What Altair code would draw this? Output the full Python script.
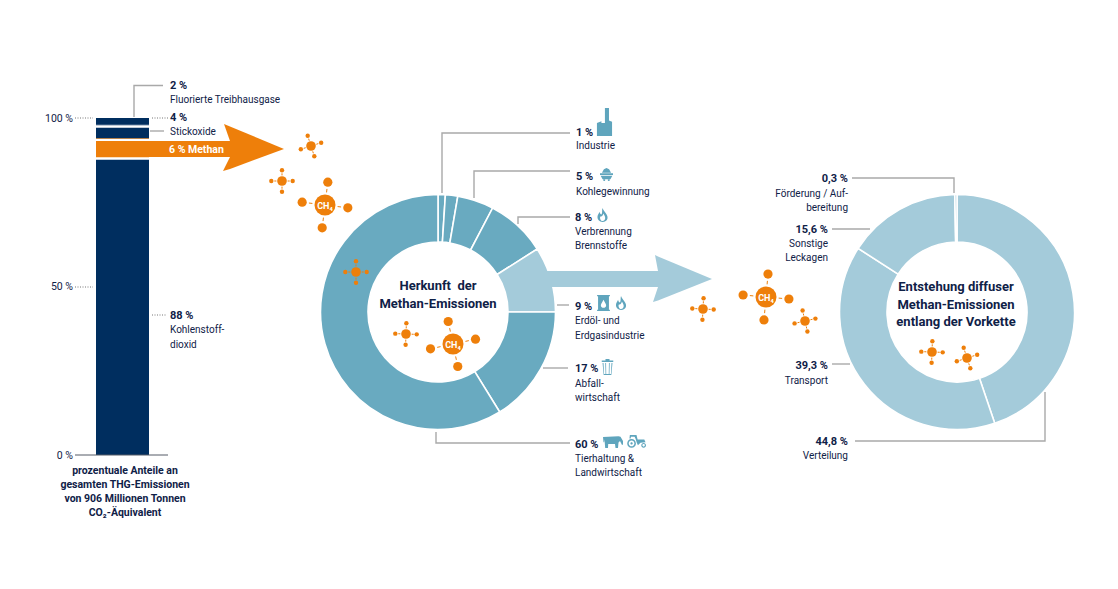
import math
import altair as alt
import pandas as pd

FONT = "Roboto"
NAVY, ORANGE, BLUE, LIGHT, INK, GREY = "#002e5f", "#ee7f0a", "#69aac0", "#a4cbda", "#0f2147", "#a9a9a9"

# ---------- data ----------
stack_values = [88, 6, 4, 2]
stack_colors = [NAVY, ORANGE, NAVY, NAVY]
gap_percent = [97.5, 93.4, 88]
axis_percent = [100, 50, 0]
axis_labels = ["100 %", "50 %", "0 %"]

origin_values = [1, 1.7, 5, 8.3, 9, 16.2, 58.8]
origin_colors = [BLUE, BLUE, BLUE, BLUE, LIGHT, BLUE, BLUE]
chain_values = [44.8, 39.3, 15.6, 0.3]

# page geometry (reference pixels)
PX_X = alt.Scale(domain=[8, 1110], range=[0, 1102], nice=False, zero=False)
PX_Y = alt.Scale(domain=[8, 581], range=[0, 573], nice=False, zero=False)
PCT_Y = alt.Scale(domain=[0, 100], range=[447, 110], nice=False, zero=True)
THETA = alt.Scale(domain=[0, 100], range=[0, 2 * math.pi])

leaders = [
    [(134, 117), (134, 85.5), (163, 85.5)],
    [(150, 131), (164, 131)],
    [(442, 193), (442, 133), (570, 133)],
    [(474, 198), (474, 171), (570, 171)],
    [(518, 224), (518, 217), (570, 217)],
    [(557, 305), (569, 305)],
    [(543, 368), (568, 368)],
    [(436, 432), (436, 443), (570, 443)],
    [(954, 193), (954, 178), (852, 178)],
    [(832, 229), (870, 229)],
    [(832, 364), (850, 364)],
    [(1045, 392), (1045, 441), (855, 441)],
]
dotted = [(75, 93, 118), (75, 93, 287), (152, 168, 118), (152, 166, 315)]
baseline_rule = [(75, 168, 455)]

# shaft / head pieces of the arrows: x, upper y, lower y
orange_arrow = [
    [(96, 141, 157), (231, 141, 157)],
    [(230, 126.5, 168.9), (284, 149, 149)],
    [(224, 124, 124), (230, 126.5, 141)],
    [(223, 171, 171), (230, 168.9, 157)],
]
blue_arrow = [
    [(530, 271, 287), (659, 271, 287)],
    [(658, 256.5, 300.5), (712, 279, 279)],
    [(655, 255, 255), (658, 256.5, 271)],
    [(653, 302, 302), (658, 300.5, 287)],
]

# molecule: x, y, rotation in degrees, big?
molecules = [
    (311, 146, -18, False), (282, 181, 0, False), (356, 272, 0, False), (406, 334, 2, False),
    (703, 309, 3, False), (805, 321, -13, False), (932, 352, 2, False), (967, 358, -18, False),
    (325, 205, 7, True), (453, 344, -12, True), (766, 297, 5, True),
]

labels_left_bold = [
    ("2 %", 170, 85), ("4 %", 170, 117), ("88 %", 170, 315),
    ("1 %", 576, 132), ("5 %", 576, 176), ("8 %", 575, 217), ("9 %", 575, 306), ("17 %", 575, 368), ("60 %", 575, 444),
]
labels_left = [
    ("Fluorierte Treibhausgase", 170, 99), ("Stickoxide", 170, 131), ("Kohlenstoff-", 170, 329), ("dioxid", 170, 344),
    ("Industrie", 576, 145), ("Kohlegewinnung", 576, 191), ("Verbrennung", 575, 231), ("Brennstoffe", 575, 245),
    ("Erdöl- und", 575, 320), ("Erdgasindustrie", 575, 335), ("Abfall-", 575, 383), ("wirtschaft", 575, 397),
    ("Tierhaltung &", 575, 458), ("Landwirtschaft", 575, 472),
]
labels_right_bold = [("0,3 %", 848, 178), ("15,6 %", 828, 229), ("39,3 %", 828, 365), ("44,8 %", 848, 441)]
labels_right = [
    ("Förderung / Auf-", 848, 193), ("bereitung", 848, 207), ("Sonstige", 828, 243), ("Leckagen", 828, 257),
    ("Transport", 828, 380), ("Verteilung", 848, 455),
]
labels_center_small = [
    ("prozentuale Anteile an", 125, 470), ("gesamten THG-Emissionen", 125, 484),
    ("von 906 Millionen Tonnen", 125, 498), ("CO₂-Äquivalent", 125, 512),
]
labels_center_title = [
    ("Herkunft\u00a0 der", 438, 285), ("Methan-Emissionen", 438, 303),
    ("Entstehung diffuser", 956, 286), ("Methan-Emissionen", 956, 304), ("entlang der Vorkette", 956, 321),
]


# ---------- icons: unit paths, [-1, 1] spans sqrt(size) px ----------
def disc(cx, cy, r, hole=False):
    s = 1 if hole else 0
    return f"M{cx-r} {cy}A{r} {r} 0 1 {s} {cx+r} {cy}A{r} {r} 0 1 {s} {cx-r} {cy}Z"


FLAME = ("M0 -1C0.15 -0.5 0.8 -0.1 0.72 0.45C0.65 0.8 0.35 1 0 1C-0.4 1 -0.72 0.7 -0.72 0.3"
         "C-0.72 0 -0.5 -0.2 -0.42 -0.45C-0.35 -0.15 -0.22 -0.05 -0.12 -0.1C0 -0.4 -0.1 -0.7 0 -1Z"
         "M0 0.85C0.25 0.85 0.42 0.6 0.38 0.35C0.34 0.15 0.2 -0.05 0.12 -0.2C0.1 0 -0.1 0.3 -0.3 0.2"
         "C-0.42 0.4 -0.3 0.85 0 0.85Z")
INDUSTRY = ("M0.03 -1L0.32 -1L0.32 -0.1L0.54 -0.02L0.54 1L-0.54 1L-0.54 0.08L-0.22 -0.05L-0.22 0.08L0.03 0.08Z")
COAL = ("M-0.7 -0.28L-0.4 -0.8L0 -1L0.4 -0.8L0.7 -0.28Z"
        "M-1 -0.18L1 -0.18L1 0.08L-1 0.08Z"
        "M-0.9 0.2L0.9 0.2L0.6 0.72L-0.6 0.72Z" + disc(-0.35, 0.85, 0.15) + disc(0.35, 0.85, 0.15))
BARREL = ("M-0.8 -1L0.8 -1L0.8 -0.85L0.68 -0.85L0.68 0.85L0.8 0.85L0.8 1L-0.8 1L-0.8 0.85L-0.68 0.85L-0.68 -0.85L-0.8 -0.85Z"
          "M0 -0.42C-0.15 -0.1 -0.33 0.1 -0.33 0.3C-0.33 0.52 -0.15 0.6 0 0.6C0.15 0.6 0.33 0.52 0.33 0.3C0.33 0.1 0.15 -0.1 0 -0.42Z")
TRASH = ("M-0.72 -0.8L0.72 -0.8L0.72 -0.62L-0.72 -0.62Z M-0.25 -1L0.25 -1L0.25 -0.8L-0.25 -0.8Z"
         "M-0.62 -0.5L-0.5 -0.5L-0.42 1L-0.48 1Z M-0.28 -0.5L-0.18 -0.5L-0.16 0.9L-0.24 0.9Z"
         "M0.18 -0.5L0.28 -0.5L0.24 0.9L0.16 0.9Z M0.5 -0.5L0.62 -0.5L0.48 1L0.42 1Z M-0.48 0.88L0.48 0.88L0.46 1L-0.46 1Z")
COW = ("M-1 -0.5L-0.95 0.02L-0.88 0.02L-0.85 -0.25L-0.78 0.6L-0.5 0.6L-0.48 0.2L0.2 0.2L0.25 0.6L0.5 0.6L0.55 0.05"
       "L0.7 -0.1L0.9 0.3L1 0.25L1 -0.1L0.75 -0.52L0.55 -0.58Z")
TRACTOR = (disc(-0.52, 0.2, 0.46) + disc(-0.52, 0.2, 0.3, True) + disc(-0.52, 0.2, 0.12)
           + disc(0.75, 0.4, 0.25) + disc(0.75, 0.4, 0.13, True)
           + "M-0.7 -0.68L0 -0.68L0.12 -0.2L0.82 -0.2L0.95 0.08L0.42 0.12L0.15 0.4L0.02 0.1L-0.1 -0.3L-0.2 -0.5L-0.58 -0.5L-0.62 -0.32L-0.74 -0.32Z")

icons = [
    (INDUSTRY, 604.5, 122, 28), (COAL, 606.5, 174.5, 13), (FLAME, 602.5, 215, 14),
    (BARREL, 603.5, 303, 16), (FLAME, 621, 303, 14), (TRASH, 607.5, 367, 16),
    (COW, 613, 442, 20), (TRACTOR, 636.5, 441.5, 19),
]


# ---------- helpers ----------
def X(field="x"):
    return alt.X(f"{field}:Q", scale=PX_X, axis=None)


def Y(field="y"):
    return alt.Y(f"{field}:Q", scale=PX_Y, axis=None)


def text_layer(rows, align, bold, size, color=INK, y_scale=PX_Y):
    df = pd.DataFrame(rows, columns=["t", "x", "y"])
    return alt.Chart(df).mark_text(
        align=align, baseline="middle", font=FONT, fontSize=size, dy=0.7,
        fontWeight="bold" if bold else "normal", color=color,
    ).encode(x=X(), y=alt.Y("y:Q", scale=y_scale, axis=None), text="t:N")


def donut(values, colors, cx, cy):
    df = pd.DataFrame({"v": values, "c": colors, "o": range(len(values))})
    return alt.Chart(df).mark_arc(radius=117.5, radius2=70, stroke="white", strokeWidth=1.6).encode(
        theta=alt.Theta("v:Q", stack=True, scale=THETA),
        order=alt.Order("o:Q"),
        color=alt.Color("c:N", scale=None),
        x=alt.value(cx - 8), y=alt.value(cy - 8),
    )


def arrow(parts, color):
    rows = []
    for g, part in enumerate(parts):
        for x, y1, y2 in part:
            rows.append({"g": g, "x": x, "y": y1, "y2": y2})
    return alt.Chart(pd.DataFrame(rows)).mark_area(color=color, opacity=1, line=False).encode(
        x=X(), y=Y(), y2=alt.Y2("y2:Q"), detail="g:N")


layers = []

# bar
bar_df = pd.DataFrame({"v": stack_values, "c": stack_colors})
bar_df["top"] = bar_df["v"].cumsum()
bar_df["bottom"] = bar_df["top"] - bar_df["v"]
bar_df["x"] = 96
bar_df["x2"] = 149
layers.append(alt.Chart(bar_df).mark_rect().encode(
    x=X(), x2="x2:Q",
    y=alt.Y("bottom:Q", scale=PCT_Y, axis=None), y2="top:Q",
    color=alt.Color("c:N", scale=None)))
gap_df = pd.DataFrame({"p": gap_percent, "x": 95, "x2": 150})
layers.append(alt.Chart(gap_df).mark_rule(color="white", strokeWidth=2.4).encode(
    x=X(), x2="x2:Q", y=alt.Y("p:Q", scale=PCT_Y, axis=None)))

# scale labels of the bar
layers.append(text_layer(list(zip(axis_labels, [73] * 3, axis_percent)), "right", False, 10.5, INK, PCT_Y))

# leaders
rows = [{"g": g, "i": i, "x": x, "y": y} for g, pts in enumerate(leaders) for i, (x, y) in enumerate(pts)]
layers.append(alt.Chart(pd.DataFrame(rows)).mark_line(color=GREY, strokeWidth=1.4).encode(
    x=X(), y=Y(), detail="g:N", order="i:Q"))
dot_df = pd.DataFrame(dotted, columns=["x", "x2", "y"])
layers.append(alt.Chart(dot_df).mark_rule(color="#777777", strokeWidth=1, strokeDash=[1, 1.5]).encode(
    x=X(), x2="x2:Q", y=Y()))
base_df = pd.DataFrame(baseline_rule, columns=["x", "x2", "y"])
layers.append(alt.Chart(base_df).mark_rule(color="#555a66", strokeWidth=1).encode(x=X(), x2="x2:Q", y=Y()))

# donuts and arrows
layers.append(donut(origin_values, origin_colors, 438, 312))
layers.append(donut(chain_values, [LIGHT] * 4, 957, 312))
layers.append(arrow(orange_arrow, ORANGE))
layers.append(arrow(blue_arrow, LIGHT))

# molecules
atoms, bonds, ch4 = [], [], []
for mx, my, rot, big in molecules:
    dist, core, outer = (23, 10.5, 4.6) if big else (10.7, 4.8, 2.2)
    atoms.append({"x": mx, "y": my, "r": core})
    for k in range(4):
        a = math.radians(rot + 90 * k)
        ca, sa = math.cos(a), math.sin(a)
        atoms.append({"x": mx + dist * ca, "y": my + dist * sa, "r": outer})
        d0, d1 = (core + 2.2, dist - outer - 2.2) if big else (core + 0.8, dist - outer - 0.8)
        bonds.append({"x": mx + d0 * ca, "y": my + d0 * sa, "x2": mx + d1 * ca, "y2": my + d1 * sa})
    if big:
        ch4.append(("CH₄", mx, my))
layers.append(alt.Chart(pd.DataFrame(bonds)).mark_rule(color=ORANGE, strokeWidth=1).encode(
    x=X(), y=Y(), x2="x2:Q", y2="y2:Q"))
atom_df = pd.DataFrame(atoms)
atom_df["s"] = (2 * atom_df["r"]) ** 2
layers.append(alt.Chart(atom_df).mark_point(filled=True, opacity=1, color=ORANGE, shape="circle").encode(
    x=X(), y=Y(), size=alt.Size("s:Q", scale=None)))

# icons
icon_df = pd.DataFrame(icons, columns=["p", "x", "y", "span"])
icon_df["s"] = icon_df["span"] ** 2
layers.append(alt.Chart(icon_df).mark_point(filled=True, opacity=1, color="#5fa5bd", strokeWidth=0).encode(
    x=X(), y=Y(), shape=alt.Shape("p:N", scale=None), size=alt.Size("s:Q", scale=None)))

# texts
layers += [
    text_layer(labels_left_bold, "left", True, 11),
    text_layer(labels_left, "left", False, 10),
    text_layer(labels_right_bold, "right", True, 11),
    text_layer(labels_right, "right", False, 10),
    text_layer(labels_center_small, "center", True, 10.5),
    text_layer(labels_center_title, "center", True, 13),
    text_layer([("6 % Methan", 169, 149)], "left", True, 10.5, "white"),
    text_layer(ch4, "center", True, 9, "white"),
]

chart = (
    alt.layer(*layers)
    .resolve_scale(y="independent")
    .properties(width=1102, height=573, padding=0, autosize="none", background="white")
    .configure_view(stroke=None)
)
chart.save("out.html", embed_options={"renderer": "svg", "actions": False})
